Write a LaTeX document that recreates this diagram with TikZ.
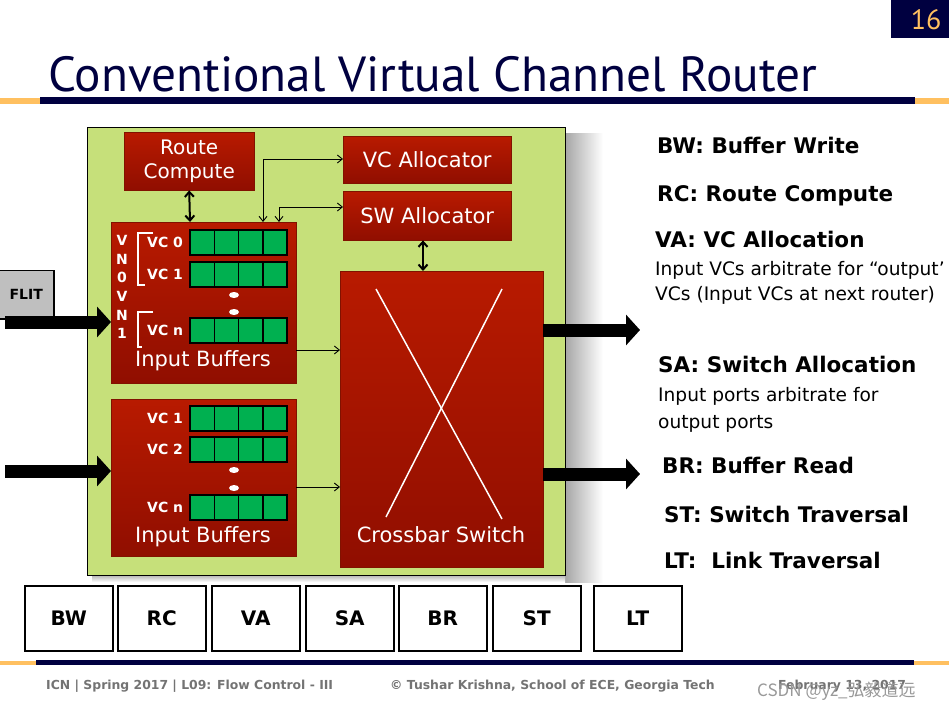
\documentclass[tikz,border=0pt]{standalone}
\usepackage{fontspec}
\setmainfont{DejaVu Sans}
\newfontfamily\cjk{Noto Sans CJK SC}
\newfontfamily\titlefont{PT Sans}
\usetikzlibrary{arrows.meta}
\definecolor{navy}{HTML}{000040}
\definecolor{gold}{HTML}{FFC060}
\definecolor{rtop}{HTML}{B81A00}
\definecolor{rbot}{HTML}{900E00}
\definecolor{lgreen}{HTML}{C6E07A}
\definecolor{cell}{HTML}{00B050}
\tikzset{
 red box/.style={draw=rtop!70!black,line width=0.4pt,top color=rtop,bottom color=rbot,text=white,align=center,font=\fontsize{21}{23}\selectfont},
 cellsty/.style={draw=black,line width=1.5pt,fill=cell},
 thin arr/.style={-{Straight Barb[length=5pt,width=8pt]},line width=0.9pt},
 dbl arr/.style={{Straight Barb[length=5pt,width=9pt]}-{Straight Barb[length=5pt,width=9pt]},line width=2pt},
 fat arr/.style={-{Triangle[length=14pt,width=30pt]},line width=13pt},
 vc/.style={text=white,font=\bfseries\fontsize{14}{15}\selectfont,anchor=west,inner sep=0pt},
 vn/.style={text=white,font=\bfseries\fontsize{14}{18.5}\selectfont,align=center,inner sep=0pt},
 lbl/.style={text=white,font=\fontsize{21}{23}\selectfont},
 stage/.style={draw=black,line width=1.5pt,fill=white,minimum width=88pt,minimum height=65pt,font=\bfseries\fontsize{20}{22}\selectfont},
 head/.style={anchor=base west,font=\bfseries\fontsize{21.5}{24}\selectfont,inner sep=0pt},
 body/.style={anchor=base west,font=\fontsize{18.6}{21}\selectfont,inner sep=0pt},
 foot/.style={anchor=base west,text=black!55,font=\bfseries\fontsize{12.4}{14}\selectfont,inner sep=0pt},
}
\begin{document}
\begin{tikzpicture}[x=1pt,y=-1pt]
\useasboundingbox (0,0) rectangle (949,708);
\fill[white] (0,0) rectangle (949,708);
% page number
\fill[navy] (891,0) rectangle (949,38);
\node[text=gold,font=\titlefont\fontsize{28}{30}\selectfont] (pg) at (926,20) {16};
% title
\node[anchor=base west,text=navy,font=\titlefont\fontsize{49.3}{52}\selectfont,inner sep=0pt] (title) at (48,92) {Conventional Virtual Channel Router};
\fill[gold] (0,98) rectangle (949,104);
\fill[navy] (40,97) rectangle (915,104);
% green box with soft shadow
\shade[left color=black!35,right color=white] (565,134) rectangle (603,582);
\shade[top color=black!30,bottom color=white] (92,575) rectangle (565,582);
\node[draw=black,line width=0.6pt,fill=lgreen,minimum width=478pt,minimum height=448pt,anchor=north west,inner sep=0pt] (router) at (87,127) {};
% boxes
\node[red box,minimum width=130pt,minimum height=58pt,anchor=north west,inner sep=0pt,font=\fontsize{20}{24}\selectfont] (rc) at (124,132) {Route\\Compute};
\node[red box,minimum width=168pt,minimum height=47pt,anchor=north west,inner sep=0pt] (vca) at (343,136) {VC Allocator};
\node[red box,minimum width=168pt,minimum height=49pt,anchor=north west,inner sep=0pt] (swa) at (343,191) {SW Allocator};
\node[red box,minimum width=185pt,minimum height=161pt,anchor=north west,inner sep=0pt] (ib1) at (111,222) {};
\node[red box,minimum width=185pt,minimum height=157pt,anchor=north west,inner sep=0pt] (ib2) at (111,399) {};
\node[red box,minimum width=203pt,minimum height=296pt,anchor=north west,inner sep=0pt] (xb) at (340,271) {};
\node[lbl] (ibl1) at (203,361) {Input Buffers};
\node[lbl] (ibl2) at (203,537) {Input Buffers};
\node[lbl] (xbl) at (441,535) {Crossbar Switch};
\draw[white,line width=1.5pt] (376,289) -- (502,519);
\draw[white,line width=1.5pt] (502,289) -- (386,517);
% buffers
\foreach \y/\l [count=\i] in {230/VC 0,262/VC 1,318/VC n,406/VC 1,437/VC 2,495/VC n}{
  \foreach \k in {0,1,2,3}{\draw[cellsty] (190+\k*24.25,\y) rectangle ++(24.25,25);}
  \node[vc] (vc\i) at (147,\y+12) {\l};
}
\foreach \y in {295,312,470,488}{\fill[white] (234,\y) ellipse (5pt and 3pt);}
\node[vn] (vn0) at (122,259) {V\\N\\0};
\node[vn] (vn1) at (122,315) {V\\N\\1};
\draw[white,line width=2pt] (153,233) -- (138,233) -- (138,285) -- (145,285);
\draw[white,line width=2pt] (153,312) -- (138,312) -- (138,347) -- (142,347);
% connectors
\draw[dbl arr] (rc.south) -- (190,222);
\draw[dbl arr] (swa.south -| 423,0) -- (423,271);
\coordinate (c1) at (263,222); \coordinate (c2) at (279,222);
\draw[thin arr,{Straight Barb[length=5pt,width=8pt]}-{Straight Barb[length=5pt,width=8pt]}] (c1) -- (263,159) -- (vca.west |- 0,159);
\draw[thin arr,{Straight Barb[length=5pt,width=8pt]}-{Straight Barb[length=5pt,width=8pt]}] (c2) -- (279,207) -- (swa.west |- 0,207);
\draw[thin arr] (296,350) -- (340,350);
\draw[thin arr] (296,487) -- (340,487);
% FLIT and fat arrows
\node[draw=black,line width=1.5pt,fill=black!25,minimum width=55pt,minimum height=48pt,anchor=north west,inner sep=0pt,font=\bfseries\fontsize{14}{15}\selectfont] (flit) at (-2,270) {FLIT};
\coordinate (in1) at (5,322); \coordinate (in2) at (5,471);
\draw[fat arr] (in1) -- (111,322);
\draw[fat arr] (in2) -- (111,471);
\coordinate (o1) at (640,330); \coordinate (o2) at (640,474);
\draw[fat arr] (543,330) -- (o1);
\draw[fat arr] (543,474) -- (o2);
% right text
\node[head] (t1) at (657,154) {BW: Buffer Write};
\node[head] (t2) at (657,202) {RC: Route Compute};
\node[head] (t3) at (655,248) {VA: VC Allocation};
\node[body] (t4) at (655,276) {Input VCs arbitrate for “output’};
\node[body] (t5) at (655,301) {VCs (Input VCs at next router)};
\node[head] (t6) at (658,372) {SA: Switch Allocation};
\node[body] (t7) at (658,401) {Input ports arbitrate for};
\node[body] (t8) at (658,428) {output ports};
\node[head] (t9) at (662,473) {BR: Buffer Read};
\node[head] (t10) at (664,522) {ST: Switch Traversal};
\node[head] (t11) at (664,568) {LT:\ \ Link Traversal};
% stages
\foreach \x/\l/\n in {24/BW/s1,117/RC/s2,211/VA/s3,305/SA/s4,398/BR/s5,492/ST/s6,593/LT/s7}{
  \node[stage,anchor=north west] (\n) at (\x,585) {\l};
}
% footer
\fill[gold] (0,661) rectangle (949,665);
\fill[navy] (36,660) rectangle (914,665);
\node[foot] (f1) at (46,689) {ICN | Spring 2017 | L09: Flow Control - III};
\node[foot] (f2) at (390,689) {© Tushar Krishna, School of ECE, Georgia Tech};
\node[foot] (f3) at (778,689) {February 13, 2017};
\node[anchor=base west,text=black!40,font=\cjk\fontsize{17}{18}\selectfont,inner sep=0pt] (wm) at (757,696) {CSDN @yz\_弘毅道远};
\end{tikzpicture}
\end{document}
